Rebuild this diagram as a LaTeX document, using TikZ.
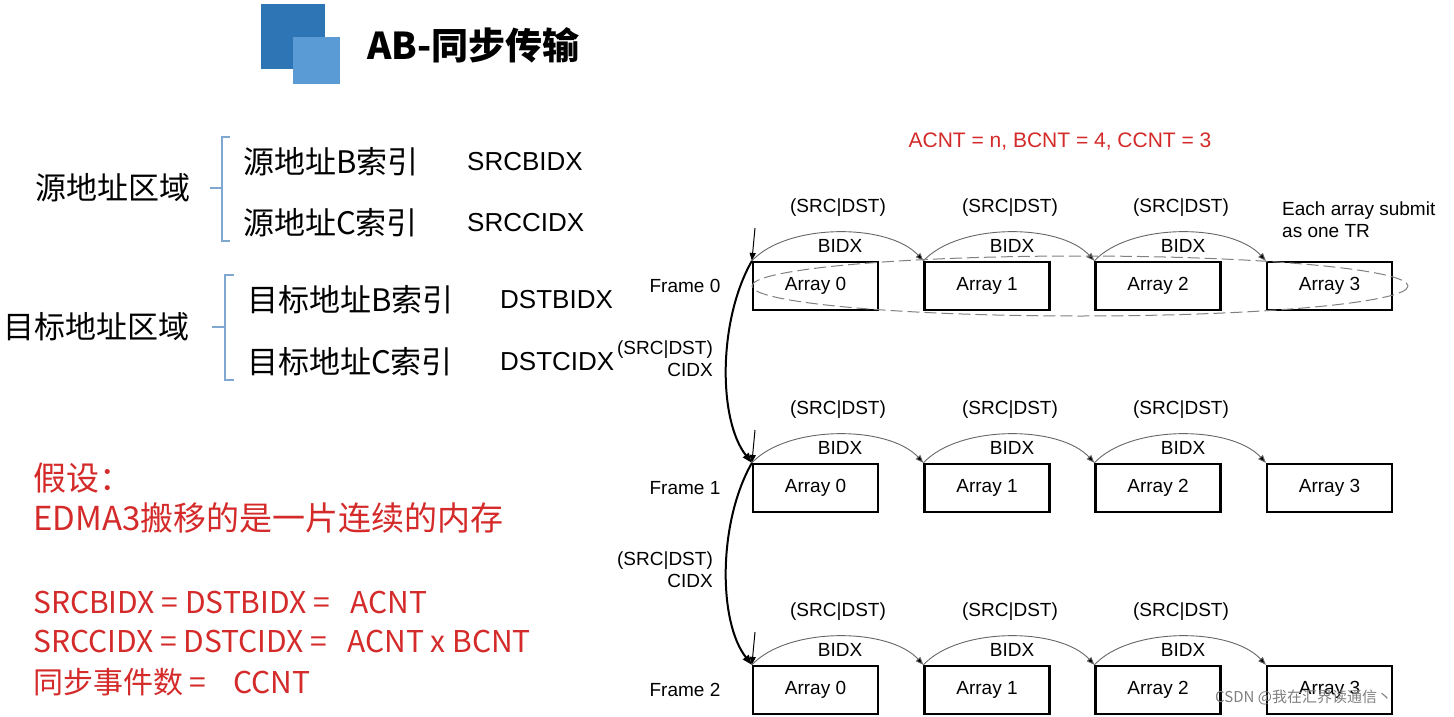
\documentclass[tikz,border=0pt]{standalone}
\usepackage{fontspec}
\setmainfont{Liberation Sans}
\newfontfamily\cjk{Noto Sans CJK SC}
\usetikzlibrary{arrows.meta,calc}
\definecolor{dk}{HTML}{2E75B6}
\definecolor{lt}{HTML}{5B9BD5}
\definecolor{rd}{HTML}{D42A2A}
\definecolor{br}{HTML}{7FA7D0}
\tikzset{
 arr/.style={draw,line width=2.2pt,minimum width=125pt,minimum height=48pt,font=\fontsize{19}{20}\selectfont,inner sep=0},
 lbl/.style={font=\fontsize{19}{22}\selectfont,inner sep=0},
 arc/.style={gray!80!black,line width=0.9pt,-{Triangle[length=8pt,width=6pt,fill=black]}},
 dn/.style={line width=1pt,-{Triangle[length=8pt,width=6pt]}},
 cn/.style={font=\cjk\fontsize{31}{34}\selectfont,inner sep=0,anchor=west},
 en/.style={font=\fontsize{26}{30}\selectfont,inner sep=0,anchor=west},
 red/.style={font=\cjk\fontsize{30}{38}\selectfont,text=rd,inner sep=0,anchor=west},
 brk/.style={br,line width=1.2pt}
}
\begin{document}
\begin{tikzpicture}[x=1pt,y=-1pt]
\useasboundingbox[fill=white] (0,0) rectangle (1454,717);
% icon + title
\fill[dk] (261,4) rectangle (325,69);
\fill[lt] (293,37) rectangle (340,84);
\node[font=\cjk\bfseries\fontsize{37}{40}\selectfont,anchor=west,inner sep=0] (title) at (367,45) {AB-同步传输};
% left structure
\node[cn] (s) at (35,188) {源地址区域};
\draw[brk] (230,137) -- (222,137) -- (222,241) -- (230,241) (222,188) -- (210,188);
\node[cn] (sb) at (243,162) {源地址B索引};
\node[en] (sbx) at (467,162) {SRCBIDX};
\node[cn] (sc) at (243,223) {源地址C索引};
\node[en] (scx) at (467,223) {SRCCIDX};
\node[cn] (d) at (3,327) {目标地址区域};
\draw[brk] (234,275) -- (225,275) -- (225,380) -- (234,380) (225,327) -- (212,327);
\node[cn] (db) at (247,300) {目标地址B索引};
\node[en] (dbx) at (500,300) {DSTBIDX};
\node[cn] (dc) at (247,362) {目标地址C索引};
\node[en] (dcx) at (500,362) {DSTCIDX};
% red text
\node[red,font=\cjk\fontsize{33}{38}\selectfont] (r1) at (33,478) {假设：};
\node[red,font=\cjk\fontsize{33}{38}\selectfont] (r2) at (33,518) {EDMA3搬移的是一片连续的内存};
\node[red] (r3) at (33,602) {SRCBIDX = DSTBIDX = \ \ ACNT};
\node[red] (r4) at (33,641) {SRCCIDX = DSTCIDX = \ \ ACNT x BCNT};
\node[red] (r5) at (33,682) {同步事件数 = \ \ \ CCNT};
\node[font=\fontsize{21}{24}\selectfont,text=rd,inner sep=0] (cnt) at (1060,142) {ACNT = n, BCNT = 4, CCNT = 3};
% frames
\foreach \f/\y in {0/286,1/488,2/690}{
  \node[lbl] (F\f) at (685,\y) {Frame \f};
  \foreach \i/\x in {0/815.5,1/987,2/1158,3/1329.5}{
    \node[arr] (A\f\i) at (\x,\y) {Array \i};
  }
  \coordinate (dt\f) at (755,\y-58);
  \draw[dn] (dt\f) -- (A\f0.north west);
  \foreach \i/\j/\x in {0/1/838,1/2/1010,2/3/1181}{
    \draw[arc] (A\f\i.north west) .. controls ($(A\f\i.north west)+(35,-38)$) and ($(A\f\j.north west)+(-35,-38)$) .. (A\f\j.north west);
    \node[lbl] (S\f\i) at (\x,\y-78) {(SRC|DST)};
    \node[lbl] (B\f\i) at (\x+2,\y-40) {BIDX};
  }
}
\draw[dashed,gray,line width=1pt,dash pattern=on 12pt off 5pt] (1080,286) ellipse (328 and 30);
\node[lbl,align=left,anchor=west] (each) at (1282,220) {Each array submit\\as one TR};
\draw[line width=2pt,-{Triangle[length=10pt,width=7pt]}] (A00.north west) .. controls (718,320) and (718,420) .. (A10.north west);
\draw[line width=2pt,-{Triangle[length=10pt,width=7pt]}] (A10.north west) .. controls (718,522) and (718,622) .. (A20.north west);
\node[lbl,align=right] (c1) at (665,359) {(SRC|DST)\\CIDX};
\node[lbl,align=right] (c2) at (665,570) {(SRC|DST)\\CIDX};
\node[font=\cjk\fontsize{15}{16}\selectfont,text=gray,anchor=west,inner sep=0] (wm) at (1215,697) {CSDN @我在汇界读通信丶};
\end{tikzpicture}
\end{document}
